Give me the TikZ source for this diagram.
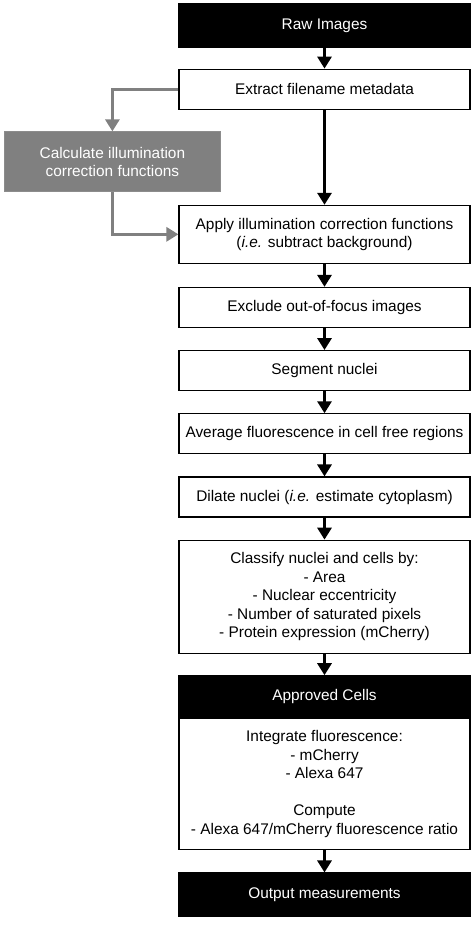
\documentclass[tikz,border=0pt]{standalone}
\usepackage{fontspec}
\setmainfont{Liberation Sans}
\usepackage{tikz}
\usetikzlibrary{arrows.meta,positioning,calc}

\begin{document}
\begin{tikzpicture}[x=1pt,y=-1pt,font=\fontsize{15.4}{18.5}\selectfont,
  node distance=22pt,
  >={Triangle[length=12pt,width=14pt]},
  stepbox/.style={draw=black,line width=1.2pt,fill=white,minimum width=291pt,
    minimum height=40pt,inner ysep=12.5pt,align=center},
  headbox/.style={stepbox,fill=black,text=white,minimum height=43pt},
  sidebox/.style={draw=black!45,line width=0.8pt,fill=black!50,text=white,
    minimum width=216pt,minimum height=60pt,align=center},
  flow/.style={->,line width=3.5pt},
  side/.style={->,line width=3pt,draw=black!50}]
\useasboundingbox (0,0) rectangle (474,925);
\node[headbox] (raw) at (324.5,25.5) {Raw Images};
\node[stepbox,below=21pt of raw] (extract) {Extract filename metadata};
\node[stepbox,below=95pt of extract] (apply) {Apply illumination correction functions\\(\textit{i.e.} subtract background)};
\node[stepbox,below=23pt of apply] (exclude) {Exclude out-of-focus images};
\node[stepbox,below=of exclude] (segment) {Segment nuclei};
\node[stepbox,below=of segment] (average) {Average fluorescence in cell free regions};
\node[stepbox,below=of average] (dilate) {Dilate nuclei (\textit{i.e.} estimate cytoplasm)};
\node[stepbox,below=of dilate] (classify) {Classify nuclei and cells by:\\- Area\\- Nuclear eccentricity\\- Number of saturated pixels\\- Protein expression (mCherry)};
\node[headbox,minimum height=41pt,below=21pt of classify] (approved) {Approved Cells};
\node[stepbox,below=0pt of approved] (integrate) {Integrate fluorescence:\\- mCherry\\- Alexa 647\\[18.5pt]Compute\\- Alexa 647/mCherry fluorescence ratio};
\node[headbox,below=of integrate] (output) {Output measurements};
\node[sidebox] (calc) at ($(extract.west)!0.5!(apply.west)+(-66,0)$) {Calculate illumination\\correction functions};
\draw[flow] (raw) -- (extract);
\draw[flow] (extract) -- (apply);
\draw[flow] (apply) -- (exclude);
\draw[flow] (exclude) -- (segment);
\draw[flow] (segment) -- (average);
\draw[flow] (average) -- (dilate);
\draw[flow] (dilate) -- (classify);
\draw[flow] (classify) -- (approved);
\draw[flow] (integrate) -- (output);
\draw[side] (extract.west) -| (calc.north);
\draw[side] (calc.south) |- (apply.west);
\end{tikzpicture}
\end{document}
